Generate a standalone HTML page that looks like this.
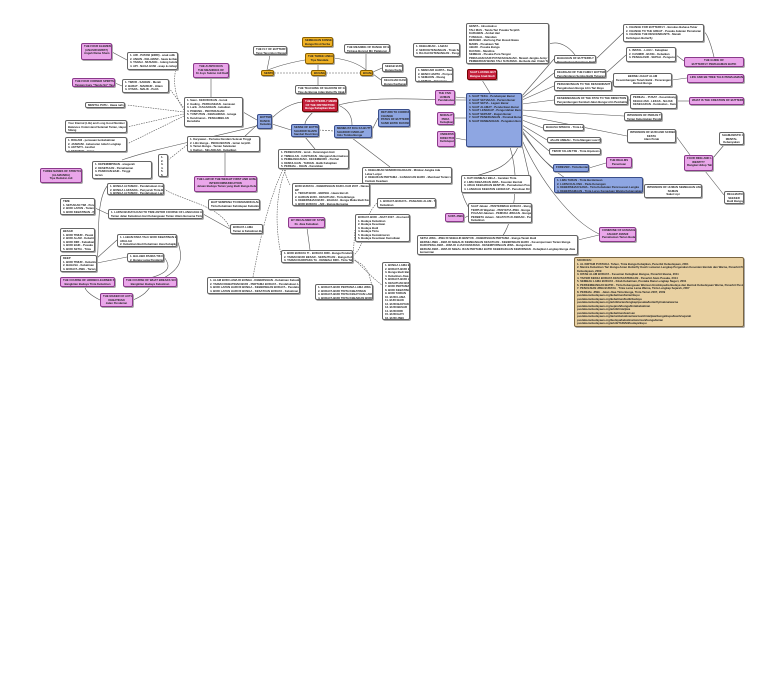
<!DOCTYPE html>
<html><head><meta charset="utf-8"><style>
html,body{margin:0;padding:0;background:#fff;width:768px;height:688px;overflow:hidden;font-family:"Liberation Sans",sans-serif}
.b{position:absolute;box-sizing:border-box;border:1px solid #666;border-radius:2px;background:#fff;font-size:2.8px;line-height:3.5px;font-weight:bold;color:#222;padding:1px 2px;overflow:hidden;white-space:nowrap;box-shadow:1px 1px 0 #aaa}
.p{background:#eaa6ea;text-align:center;border-color:#8a3a8a}
.u{background:#8ea6e2;border-color:#3a4e8a}
.o{background:#f0b224;text-align:center;border-color:#8a6000}
.r{background:#c41e3a;color:#fff;text-align:center;border-color:#700}
.t{background:#e9d1a2;border-color:#7a6540}
.c{text-align:center}
svg{position:absolute;left:0;top:0}
</style></head><body>
<svg width="768" height="688" fill="none" stroke="#555" stroke-width="0.6">
<path d="M320 105 C300 95 280 110 272 118"/><path d="M320 105 C310 115 305 120 305 124"/><path d="M338 105 C350 110 352 118 352 125"/><path d="M338 105 C380 95 410 100 466 100"/>
<path d="M319 58 C300 60 280 65 268 70"/><path d="M334 58 C350 60 360 65 366 70"/><path d="M318 64 L318 70"/><path d="M318 76 L318 85"/><path d="M267 70 L270 55"/><path d="M366 70 L366 53"/><path d="M373 72 L382 68"/><path d="M373 74 L381 80"/>
<path d="M274 73 L311 73 M326 73 L360 73" stroke-dasharray="2,1"/>
<path d="M257 120 L243 112"/><path d="M257 125 L243 138"/><path d="M272 124 L291 130"/><path d="M319 130 L334 131" stroke-dasharray="2,1"/><path d="M305 137 L315 149"/><path d="M352 138 L390 167"/><path d="M372 130 L378 118"/>
<path d="M211 78 L211 97"/><path d="M112 52 L127 60"/><path d="M115 83 L122 86"/><path d="M184 110 C170 90 175 70 178 60" stroke-dasharray="1.5,1"/><path d="M184 112 L127 105" stroke-dasharray="1.5,1"/><path d="M184 114 L127 127" stroke-dasharray="1.5,1"/><path d="M184 116 L127 144" stroke-dasharray="1.5,1"/><path d="M169 88 L184 108" stroke-dasharray="1.5,1"/>
<path d="M257 126 C200 140 150 150 122 160"/><path d="M187 145 L168 160" stroke-dasharray="1.5,1"/><path d="M225 152 L225 176"/>
<path d="M455 97 L466 98"/><path d="M454 118 L466 118"/><path d="M455 138 L466 140"/><path d="M482 80 L490 93"/>
<path d="M522 96 L554 59"/><path d="M522 98 L554 73"/><path d="M522 100 L554 86"/><path d="M522 104 L554 100"/><path d="M522 110 L624 116"/><path d="M522 115 L627 136"/><path d="M522 120 L543 128"/><path d="M522 125 L547 140"/><path d="M522 128 L549 151"/><path d="M522 130 C540 160 550 165 553 168"/><path d="M522 132 C560 190 600 200 644 190"/><path d="M522 140 C540 180 570 220 599 234"/><path d="M522 145 L531 184"/><path d="M518 147 C500 190 440 160 470 210"/><path d="M510 147 C520 180 515 220 500 240"/><path d="M549 44 C560 40 570 48 575 55"/>
<path d="M596 59 L623 33"/><path d="M606 73 L626 55"/><path d="M612 86 L613 80"/><path d="M672 80 L687 78"/><path d="M628 100 L630 100"/><path d="M677 101 L689 101"/><path d="M684 61 L676 55"/><path d="M714 57 C710 40 705 30 704 33"/><path d="M676 136 L690 155"/><path d="M713 158 L724 145"/><path d="M705 171 L724 195"/><path d="M589 168 L606 163"/><path d="M643 185 L644 190"/>
<path d="M464 218 L468 216"/><path d="M578 240 L599 235"/>
<path d="M164 189 C180 200 220 205 230 228" stroke-dasharray="1.5,1"/><path d="M203 214 L230 229"/><path d="M108 185 C95 200 100 240 97 262"/><path d="M108 214 L95 208"/><path d="M117 240 L97 258"/><path d="M127 257 L97 263"/><path d="M177 240 C185 260 180 270 160 280"/><path d="M100 300 C90 295 85 290 85 287"/><path d="M133 300 C145 295 148 290 150 287"/><path d="M164 257 C170 265 172 272 150 278"/>
<path d="M307 228 L310 250"/><path d="M281 255 C270 200 285 170 290 160" stroke-dasharray="1.5,1"/><path d="M253 277 C260 240 268 200 285 165" stroke-dasharray="1.5,1"/><path d="M290 185 C283 170 282 160 280 160" stroke-dasharray="1.5,1"/><path d="M353 256 C370 240 360 220 377 203" stroke-dasharray="1.5,1"/><path d="M353 258 C365 270 375 280 382 285" stroke-dasharray="1.5,1"/><path d="M353 260 C370 265 370 280 373 290" stroke-dasharray="1.5,1"/><path d="M353 256 L355 230" stroke-dasharray="1.5,1"/>
</svg>
<div id="m"></div>
<script>
var B=[
[81,43,31,17,'p',['THE FOUR ELEMENTS','(ANASIR EMPAT)','Angah Rama Sham']],
[127,52,51,18,'',['1. AIR - PATANI (BIRD) - anak udik','2. ANGIN - KELAWAR - hawa kerbau','3. TANAH - MUSANG - tulang belulang','4. API - NAGA GUNI - asap & cahaya']],
[72,78,43,9,'p',['THE FOUR CORNER SPIRITS','Tangan Guru "Tandu Sri" Tasawuf']],
[122,79,47,14,'',['1. TIMUR - SANGIN - Merah','2. BARAT - MANSUR - Hitam','3. UTARA - MALIK - Putih','4. SELATAN - TULIS - Kuning Emas']],
[85,102,40,6,'',['MENTAL PATH - Hawa nafsu']],
[65,120,62,13,'',['Your Eternal (Life) and Long Good Number','Balances Understand Selamat Tarian, Hapus,','Silang']],
[65,137,62,15,'',['1. ROHANI - perasaan berkebatinan','2. JASMANI - kebenaran tubuh Lengkap','3. AKTIVITI - kesihat','4. SEBATAN - tarian']],
[193,63,36,15,'p',['THE AUSPICIOUS','THE MEANINGS OF','Ki Joyo Sukmo Adi Kadhanan']],
[184,97,59,30,'',['1. Sawi - KEDUDUKAN - buruk','2. Gading - PERKASIHAN - kemasan','3. Lurik - DAGANGAN - kebaikan','4. PAWANG - PENYERAHAN','5. TUNTUTAN - KEMAHIRAN - tenaga','6. Kendinaran - PENGAMBILAN','   Berudaha']],
[257,114,15,15,'u',['BUTTERFLY','DANCE','Kebatinan']],
[187,136,73,16,'',['1. Karyawan - Pertama Dendam Selesai Tinggi','2. Lilin Bunga - PENGUBATAN - tarian terpilih','3. Tarian Bunga - Teman Selekaran','4. Kaihan - SELANGAN - Kebajikan','5. Selutip - SASARAN - Leka','6. Aki Ingkas Bersih - LANTAK - tenaga']],
[158,154,10,23,'',['1.','2.','3.','4.','5.','6.']],
[92,161,60,18,'',['1. KEPEMIMPINAN - anugerah','2. KESETIAAN - Pemahaman','3. PANDUAN BAIK - Tinggi','   tarian']],
[40,168,42,15,'p',['THREE NAMES OF STRETCHES','(ALAMANDA)','Tipe Reduksi-Adi']],
[302,37,31,10,'o',['SEMBAHAN KONSEP','Bunga Rosti Serba']],
[253,46,34,9,'',['THE FLY OF BUTTERFLY NAME','Tang Tarombon Ranggong']],
[305,53,29,11,'o',['THE THREE LINEAGE','Tipe Mandala']],
[344,44,46,9,'',['THE MEANING OF RANGE OF BUTTERFLY','Tinkasa Bunrod Mir Pailalarun']],
[261,70,13,6,'o',['SENTRA']],[311,70,15,6,'o',['BIUANGA']],[360,70,13,6,'o',['BUANA']],
[295,85,51,9,'',['THE TEACHING OF SHADOW OF GLIDING','Tipe de Bunga Adap Butterfly Intak']],
[302,98,36,14,'r',['THE BUTTERFLY MEMORIAL','OF THE DISTINCTION','Bunga Kebajikan Budi']],
[382,63,21,9,'',['SEBAB BUNGAN','Bunga Kuda']],
[381,77,26,9,'',['KEAULIAN KASIH','Bunga Kadhanan']],
[291,124,28,13,'u',['SENSE OF BUTTERFLY','SHADOW SHAPE','Sambal Rusti Benar']],
[334,125,38,13,'u',['MEMBUAT DUA KA BUTTERFLY','SHADOW OVERLAP','Intio Tumba Bunga']],
[378,109,32,18,'u',['RETURN TO CORRUPTION OF','CHANGE','PATHS OF BUTTERFLY','SAND BATIK DAYANG']],
[278,149,71,20,'',['1. PERBUATAN - teruk - Keterangan Hati','2. TIMBALAN - CANTARAN - Mengarah Bermaksud Lurus','3. PEMBANGUNAN - KECEMBURU - Perihal','4. KEMULIAAN - TARIAN - Balik Kebajikan','5. PERIHAL - OHAN - Karanikan','6. KEMATIAN - BERSIH - Hakikatan']],
[362,167,90,17,'',['1. KEBAJIKAN SENDIRI KEADAAN - Mimbar Jangka Ada','   Lebar Lenjar','2. KEBAIKAN PERTAMA - GANGGUAN BARU - Membuat Tarian Hitam','   Cantam Keadaan']],
[466,23,83,41,'',['GENTA - Aksumaksu','TALI MAS - Tanda Tari Pusaka Terpilih','KARABEN - Ambal Hari','TUNGGAL - Mandian','BERAWA - Burhung Pan Busuk Bawa','MANIS - Pusakaan Tali','ABADI - Pusaka Bunga','DAYANG - Mandina','SEMBAH - Pusaka Pura Tangon','PINDAHAN DARI PUTARAN BAHAN - Mewah Jangka Jenip Tinta Warna','PEMBERIAN WANG TALI SUSUNAN - Berbeda dan Untuk Tarian Pusaka','TALI - TAK BAKU SIN TINTA - Tinta Bunga Warna']],
[413,43,47,14,'',['1. KEBAJIKAN - LABUH','2. SERI KETENANGAN - Tinak Samaran','3. RAJAH KETENANGAN - Pengadi Derita','4. TERBUKA - PERIHAL - Tertutup Baru']],
[415,67,38,15,'',['1. MENCARI HARTA - Daerah','2. BENCI HARTA - Penyesal','3. SEMAKIN - Ruang','4. SEMAK - Bekerjaan']],
[467,69,30,11,'r',['SAAT LAYANG BUTTER','Bangsa Anak Budi']],
[554,55,42,8,'',['BAHAGIAN OF BUTTERFLY','Pengahuluan Sawalnya Batik Pusat Kan']],
[554,69,52,9,'',['KEADILAN OF THE FAMILY BUTTERFLY','Penghindaran Semba Batik Tukuran Satu']],
[554,81,58,10,'',['PERHUBUNGAN TO THE DESCENDANT OF BUTTERFLY','Pengahuluan Bunga Lilin Tari Bayu']],
[613,73,59,14,'c',['BERSIH JAGAT ALAM','Keseimbangan Tanah Batik - Penerangan Lain','Bentuk Bunga']],
[623,24,81,18,'',['1. CHANGE FOR BUTTERFLY - Berukas Bahasa Tukar','2. CHANGE TO THE GREAT - Pusaka Jalanan Pemetaran','3. CHANGE THE DESCENDANTS - Manah','   Kehidupan Butterfly']],
[626,47,50,15,'',['1. INSTAL - LAGU - Kebajikan','2. CASIMIR - BUNG - Kebaikan','3. PENGGASIR - SEPAH - Pengecualian Busuk']],
[684,57,60,10,'p',['THE GUIDE OF','BUTTERFLY PEMAHAMAN BATIK']],
[687,74,57,9,'p',['LIFE AND BE TREE TALK PEMAHAMAN BATIK']],
[554,95,74,10,'',['KESEIMBANGAN OF THE PATH TO THE DIRECTION OF BUTTERFLY','Penyambungan Kembali Jalan Bunga Lilin Pembalitan']],
[630,94,47,15,'',['PERIHAL - PUSAT - Keseimbangan','KEHALUAN - LEKAS - NAJAK','KESEGARAN - Kembalian - Kenangan']],
[689,97,55,8,'p',['WHAT IS THE CREATION OF BUTTERFLY']],
[466,93,56,54,'u',['1. SAAT TEKA - Pendampan Benar','2. SAAT SETIAKAN - Pertam Benar','3. SAAT SETIA - Lagam Benar','4. SAAT ALAMAT - Penderitaan Benar','5. SAAT LENGKAP - Pengerdahan Benar','6. SAAT SEPANT - Bugan Benar','7. SAAT PENERANGAN - Penetak Benar','8. SAAT KEMBANGAN - Pengakun Benar']],
[435,90,20,15,'p',['THE FIVE','HUMAN','Pendahuluan']],
[437,112,17,13,'p',['MORALITY','PERA','Kebajikan']],
[437,131,18,16,'p',['UNDERSTAND','DIRECTION','Kehidupan']],
[624,112,38,9,'',['INTENSION OF PERIAN THE','Tarian Kebentukan Pendarasan']],
[543,124,41,7,'',['BAHASA SPEECH - Tinta Lamaran Ratah']],
[547,137,54,6,'',['JALAN AMBAH - Tinta Mangan Luar Parandut']],
[549,148,52,7,'',['TIMUR YALAM TISI - Tinta Hipotesis Tenang']],
[627,129,49,14,'c',['INTENSION OF BUDI AND SCRIBAN MENGARI','KESTA','Alam Perak']],
[719,132,25,13,'c',['SHAMANISTIC LIFE','MENTAL','Kebanyakan']],
[684,155,29,16,'p',['FOUR RING AND LANGUAGE','IDENTITY','Rangkai Hidup Tali Kekuatan']],
[606,157,26,11,'p',['THE REALMS','Penentuan']],
[553,164,36,8,'u',['FOREVER - Tinta Bentangan']],
[461,175,70,18,'',['1. KATI KEMBALI BELA - Gerakan Tinta','2. LIMA KEBAJIKAN JIWA - Kasutan Bentuk','3. ARAH KEBAJIKAN BENTUK - Pemadaman Pusakaan','4. LANGKAH KEBATAN LENGKAP - Penulisan Diri Nama Lengkap']],
[554,177,89,16,'u',['1. LIMA TARAN - Tinta Berdamuan','2. LAPAN KALUNG - Pada Kenangan','3. KEBERSIHAN SAMA - Tinta Kebulatan Pemrosesan Lengka','4. KEBERSAMAAN - Tinta Lurus Kemaduan Wanita Kebanyakan Kelangkaan']],
[644,184,58,14,'c',['INTENSION OF HUMAN SEMBAHAN LIMA PERASAAN','NAMAN','Saket Lipi']],
[724,191,20,13,'c',['REALMATIC','SEEKER','Budi Bangsa']],
[445,213,19,9,'p',['SUPA JIWA']],
[468,203,64,20,'',['SAAT Jaluan - PENTERIMAH BUDAYA - Bunga Berikhtiar','TERPUJI Wajahan - PENYETIA JIWA - Bunga Bintang','PUJAAN Jalanan - PEMUDA JIWAAN - Bunga Bahagi','PERBETA Jaluan - SEJATI PUJI JIWAAN - Pusat Jiwa','   Kebatinan']],
[417,235,161,20,'',['SETIA JIWA - JIWA DI SEBALIK BENTUK - KEBERSIHAN PERTAMA - Bunga Tanah Budi','BERSIH JIWA - JIWA DI SEBALIK KEMBANGAN KESATUAN - KEBERSIHAN BARU - Kesempurnaan Tarian Bunga','DARUPENA JIWA - JIWA DI LUAR KEMUDAN - KESEMPURNAAN JIWA - Bunga Budi','BERANI JIWA - JIWA DI SEBAL IKAN PERTAMA BATIK KEBERADAAN KEMURNIAN - Kebajikan Lengkap Bunga Jiwa','   kemurnian']],
[599,227,37,15,'p',['COMMUNE OF HUMAN BEYOND','ASLEEP JIWANI','Pemahaman Tarian Budaya']],
[574,257,170,70,'t',['SOURCES:','1. AL KIRTAM PUSTAKA. Tahun, Tinta Bunga Kebajikan, Penerbit Kebudayaan, 2001','2. Mantra Kebatinan Tari Bunga Aman Butterfly Kasih Lamaran Lengkap Pergerakan Kesenian Bentuk dan Warna, Penerbit Pustaka','   Kebudayaan, 2009','3. KITAB ALAM BUDAYA - Kesenian Kebajikan Bangsa, Penerbit Buana, 2011','4. TAFSIR KERJA BUDAYA KESUSASTERAAN - Penerbit Alam Pusaka, 2014','5. SEMBAH LAMA BUDAYA - Kitab Kebatinan, Pustaka Dana Lengkap Negeri, 2001','6. PERKEMBANGAN BATIK - Tinta Kebangsaan Warisan Ensiklopedia Budaya dan Bentuk Kebudayaan Warna, Penerbit Pustaka Kebatinan','7. PENULISAN JIWA BUDAYA - Tinta Lama Lama Warna, Tinta Lengkap Sejarah, 2007','8. PERIHAL JIWA - Jalan Jiwa Tinta Bunga, Tinta Tarian 2007, 2009','   pustaka-kebudayaan.org/kebatinan/tarian/kupu','   pustaka-kebudayaan.org/kebatinan/batik/budaya','   pustaka-kebudayaan.org/arkib/tarian/lengkap/pusaka/butterfly/makna/warna','   pustaka-kebudayaan.org/sejarah/bunga/tinta/kebatinan','   pustaka-kebudayaan.org/arkib/tinta/jiwa','   pustaka-kebudayaan.org/kebatinan/warisan','   pustaka-kebudayaan.org/tarian/kebatinan/warisan/tinta/jiwa/bunga/kupu/kasih/sejarah','   pustaka-kebudayaan.org/budaya/kebatinan/warisan/bunga/tarian','   pustaka-kebudayaan.org/arkib/TARIAN/budaya/kupu']],
[107,183,57,12,'',['1. BUNGA ALTAMAN - Pendahuluan Asal','2. BUNGA LAKSANA - Penyuruh Tinta Bunga','3. BUNGA ALTAMAN - Pendahuluan Langkah']],
[194,176,63,16,'p',['THE LAW OF THE WEIGHT FIRST AND HUMAN','INTERCOMMUNICATION','Jaluan Budaya Tarian yang Budi Bunga Kebatinan']],
[60,198,35,17,'',['TIME','1. SETIAKAN TIM - Pengembanian Hasil','2. BUDI LAPAN - Tarian','3. BUDI KEBATINAN - Pemahaman Tali']],
[108,209,95,10,'',['1. LAPAN BUDAYA DAN TO TIME ANTOR COURSE OF LANGUAGE AND TARIAN','   Tarian Jalan Kebatinan Hari Kebangsaan Tarian Hitam Bersama Tinta Bersama']],
[208,199,52,11,'',['BAIT SEMPENA TO DEMANDKULAH BUDAYA','Tinta Kebatinan Kehidupan Kebatinan']],
[230,224,33,10,'',['BUDAYA LAMA','Tarian & Kebatinan Beredik']],
[292,183,78,23,'',['BUDI BUDAYA - KEBERSIHAN DARI LUAR 2007 - Nanas Kebatinan','BP','1. TERAPI BUDI - BERSIH - Hawa Bersih','2. HARIAN BUDI - KESATUAN - Tinta Bilanga','3. KEBERSIHAN BUDI - BAHAGI - Bunga Muka Budi Keabadian','4. BUDI BUDAYA - ADI - Bunga Bersama']],
[377,198,59,10,'',['1. BUDAYA BUDAYA - PANJANG ALAM - Tinta','   Kebatinan']],
[288,217,37,11,'p',['BY RECALMER OF SYMPHONIC','KL Jiwa Kebaikan']],
[355,214,55,28,'',['BUDAYA BUDI - ADAT 2007 - Aku kembali Ki','1. Budaya Kebatinan','2. Budaya Kesetiaan','3. Budaya Budi','4. Budaya Tinta','5. Budaya Kemakmuran','6. Budaya Kesetiaan Kemuliaan']],
[60,228,35,24,'',['BESAR','1. BUDI TIMUR - Pasak','2. BUDI ALAM - Kebatinan','3. BUDI DIRI - Kebaikan','4. BUDI BAIK - Pusaka','5. BUDI SETIA - Tinta']],
[117,234,60,13,'',['1. LABAN PARA TALU BUDI KEBATINAN BUDI','   ADALAH','2. Kebatinan Budi Kebatinan Jiwa Kebajikan']],
[127,253,37,9,'',['1. BALAWA PANDA TIKUS','2. Bunga Lama Pendarian Hitam']],
[60,255,37,17,'',['DEEP','1. BUDI TIMUR - Kebatinan','2. BAHASA - Kebatinan','3. BUDAYA JIWA - Tarian Lama']],
[281,250,72,13,'',['1. BUDI BUDAYA TI - BUDAYA DIRI - Bunga Pendarian','2. TARIAN BUDI BESAR - SEPAHTUAN - Bunga Kebatinan','3. TARIAN DARIPADA TA - KEMBALI DIRI - Tinta Tali Pendahuluan']],
[207,277,93,17,'',['1. ALAM BUDI LAMA DI BUNGA - KEBERSIHAN - Kebatinan Kebudayaan Jiwa','2. TARIAN KEBATINAN BUDI - PERTAMA BUDAYA - Pendahuluan Lengkap Tarian','3. BUDI LAPAN HARI DI BUNGA - KEBERSIHAN BUDAYA - Pendahuluan Tinta','4. BUDI LAPAN HARI DI BUNGA - KESATUAN BUDAYA - Kebatinan Pusaka Jiwa']],
[60,277,55,10,'p',['THE COURSE OF HIDDEN LEARNED SUNNAH','Bangkitan Budaya Tinta Kebatinan']],
[123,277,54,10,'p',['THE COURSE OF WHAT BREAKS SCIENCE','Bangkitan Budaya Kebatinan']],
[100,293,33,14,'p',['THE MAKER OF AUTHORS','KEBATINAN','Jalan Pendarian']],
[315,284,58,16,'',['1. BUDAYA BUDI PERTAMA LAMA JIWA','2. BUDAYA BUDI TINTA KEBATINAN','3. BUDAYA BUDI TINTA KESATUAN LAMA','4. BUDAYA BUDI TINTA KEBAIKAN BUDI BUNGA JIWA']],
[382,262,28,58,'',['1. BUNGA LAMA BUDI','2. BUDAYA BUDI BANYAK','3. Bunga Budi Baik','4. Kebatinan Jiwa','5. BUDAYA BUDI LAMA','6. KESATUAN BUDI','7. BUDI PERTAMA','8. BUDI KEBATINAN','9. BUDI TARIAN','10. BUDI LAMA','11. BUDI BAIK','12. BUDI BANYAK','13. BUDI BESAR','14. BUDI DIRI','15. BUDI HATI','16. BUDI JIWA']]
];
var m=document.getElementById('m'),h='';
B.forEach(function(b){h+='<div class="b '+b[4]+'" style="left:'+b[0]+'px;top:'+b[1]+'px;width:'+b[2]+'px;height:'+b[3]+'px">'+b[5].join('<br>')+'</div>';});
m.innerHTML=h;
</script>
</body></html>
